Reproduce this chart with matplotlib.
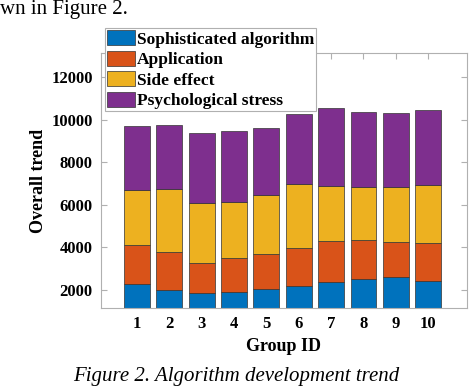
import matplotlib
matplotlib.use("Agg")
import matplotlib.pyplot as plt
import numpy as np

plt.rcParams['font.family'] = ['Liberation Serif', 'DejaVu Serif']

groups = [1, 2, 3, 4, 5, 6, 7, 8, 9, 10]
tick_labels = ['1', '2', '3', '4', '5', '6', '7', '8', '9', '10']
series_names = ['Sophisticated algorithm', 'Application', 'Side effect', 'Psychological stress']
sophisticated = [2265, 2000, 1875, 1920, 2030, 2200, 2375, 2515, 2610, 2420]
application = [1845, 1765, 1375, 1570, 1660, 1775, 1910, 1835, 1630, 1800]
side_effect = [2585, 2975, 2850, 2660, 2770, 3000, 2595, 2500, 2595, 2695]
psych_stress = [3005, 3020, 3285, 3330, 3160, 3275, 3650, 3530, 3495, 3525]
colors = ['#0072BD', '#D95319', '#EDB120', '#7E2F8E']

fig = plt.figure(figsize=(4.74, 3.86), dpi=100)
ax = fig.add_axes([101/474, 78/386, 366/474, 255/386])

x = np.array(groups)
bottom = np.zeros(len(groups))
for vals, name, c in zip([sophisticated, application, side_effect, psych_stress], series_names, colors):
    ax.bar(x, vals, width=0.8, bottom=bottom, color=c, edgecolor='#333333', linewidth=0.5, label=name, zorder=2)
    bottom += np.array(vals)

ax.set_xlim(-0.11, 11.2)
ax.set_ylim(1150, 13130)
ax.set_xticks(x)
ax.set_xticklabels(tick_labels)
ax.set_yticks([2000, 4000, 6000, 8000, 10000, 12000])

for s in ax.spines.values():
    s.set_color('#B0B0B0')
    s.set_linewidth(0.8)
ax.tick_params(direction='in', length=4, width=0.8, color='#B0B0B0', top=True, right=True,
               labelsize=12, pad=6)
for lab in ax.get_xticklabels() + ax.get_yticklabels():
    lab.set_fontweight('bold')

ax.set_xlabel('Group ID', fontsize=13, fontweight='bold', labelpad=4)
ax.set_ylabel('Overall trend', fontsize=13, fontweight='bold', labelpad=3)

leg = ax.legend(loc='upper left', bbox_to_anchor=(0.011, 1.098), borderaxespad=0,
                prop={'family': 'Liberation Serif', 'weight': 'bold', 'size': 12.5},
                handlelength=1.6, handleheight=0.95, handletextpad=0.12, labelspacing=0.18,
                borderpad=0.12, fancybox=False, framealpha=1, edgecolor='#B0B0B0')
leg.get_frame().set_linewidth(0.8)

fig.text(0.0, 1.0, 'wn in Figure 2.', fontsize=15, ha='left', va='top')
fig.text(73/474, 0.0, 'Figure 2. Algorithm development trend', fontsize=15, style='italic', ha='left', va='bottom')

fig.savefig('out.png', dpi=100)
